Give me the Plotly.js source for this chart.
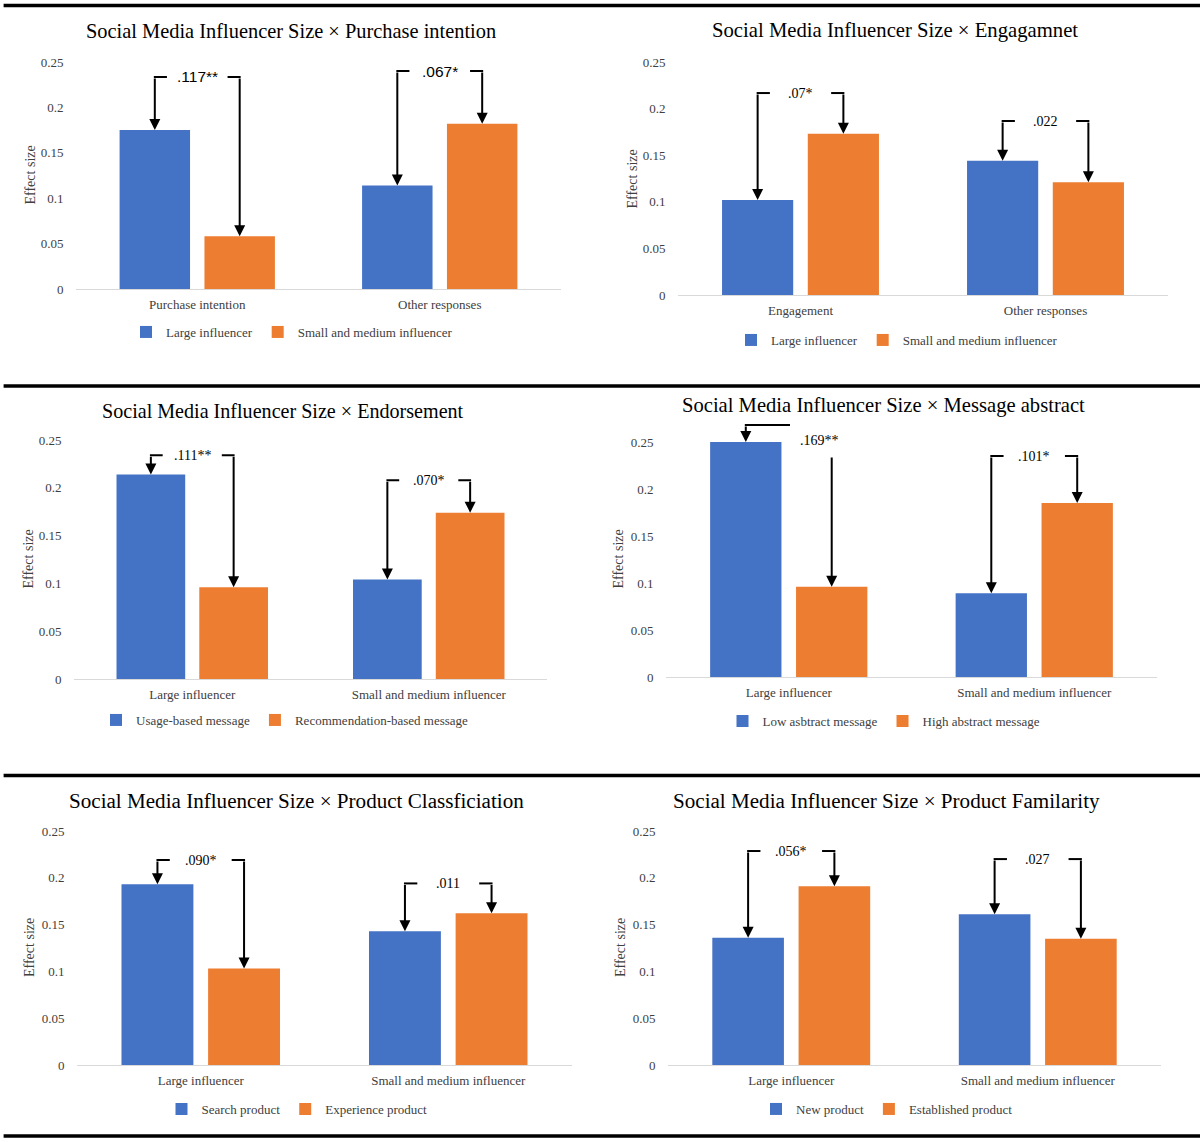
<!DOCTYPE html>
<html>
<head>
<meta charset="utf-8">
<script src="https://cdn.plot.ly/plotly-3.0.1.min.js"></script>
<style>html,body{margin:0;padding:0;background:#fff;}#chart{width:1200px;height:1142px;}</style>
</head>
<body>
<div id="chart"></div>
<script>
// ---------------- DATA ----------------
const titles = [
  'Social Media Influencer Size × Purchase intention',
  'Social Media Influencer Size × Engagamnet',
  'Social Media Influencer Size × Endorsement',
  'Social Media Influencer Size × Message abstract',
  'Social Media Influencer Size × Product Classficiation',
  'Social Media Influencer Size × Product Familarity'
];
const yTitle = 'Effect size';
const yTickVals = [0, 0.05, 0.1, 0.15, 0.2, 0.25];
const yTickText = ['0', '0.05', '0.1', '0.15', '0.2', '0.25'];

const p1Categories = ['Purchase intention', 'Other responses'];
const p1Series = ['Large influencer', 'Small and medium influencer'];
const p1Blue = [0.175, 0.114];
const p1Orange = [0.058, 0.182];
const p1Diff = ['.117**', '.067*'];

const p2Categories = ['Engagement', 'Other responses'];
const p2Series = ['Large influencer', 'Small and medium influencer'];
const p2Blue = [0.102, 0.144];
const p2Orange = [0.173, 0.121];
const p2Diff = ['.07*', '.022'];

const p3Categories = ['Large influencer', 'Small and medium influencer'];
const p3Series = ['Usage-based message', 'Recommendation-based message'];
const p3Blue = [0.214, 0.104];
const p3Orange = [0.096, 0.174];
const p3Diff = ['.111**', '.070*'];

const p4Categories = ['Large influencer', 'Small and medium influencer'];
const p4Series = ['Low asbtract message', 'High abstract message'];
const p4Blue = [0.25, 0.089];
const p4Orange = [0.096, 0.185];
const p4Diff = ['.169**', '.101*'];

const p5Categories = ['Large influencer', 'Small and medium influencer'];
const p5Series = ['Search product', 'Experience product'];
const p5Blue = [0.193, 0.143];
const p5Orange = [0.103, 0.162];
const p5Diff = ['.090*', '.011'];

const p6Categories = ['Large influencer', 'Small and medium influencer'];
const p6Series = ['New product', 'Established product'];
const p6Blue = [0.136, 0.161];
const p6Orange = [0.191, 0.135];
const p6Diff = ['.056*', '.027'];

// ---------------- LAYOUT / STYLE ----------------
const W = 1200, H = 1142;
const YMAX = 0.28;
const BLUE = '#4472C4', ORANGE = '#ED7D31';
const SERIF = 'Liberation Serif, Times New Roman, serif';
const SANS = 'Liberation Sans, Arial, sans-serif';
const BARGAP = 0.3, BARGROUPGAP = 0.17;

const panels = [
  {cats: p1Categories, series: p1Series, blue: p1Blue, orange: p1Orange, diff: p1Diff},
  {cats: p2Categories, series: p2Series, blue: p2Blue, orange: p2Orange, diff: p2Diff},
  {cats: p3Categories, series: p3Series, blue: p3Blue, orange: p3Orange, diff: p3Diff},
  {cats: p4Categories, series: p4Series, blue: p4Blue, orange: p4Orange, diff: p4Diff},
  {cats: p5Categories, series: p5Series, blue: p5Blue, orange: p5Orange, diff: p5Diff},
  {cats: p6Categories, series: p6Series, blue: p6Blue, orange: p6Orange, diff: p6Diff}
];

// pixel boxes: axis left/right, y pixel of 0 and of 0.25
const boxes = [
  {x0: 76,  x1: 561,  y0: 289,  y25: 62},
  {x0: 678, x1: 1168, y0: 295,  y25: 62},
  {x0: 74,  x1: 547,  y0: 679,  y25: 440},
  {x0: 666, x1: 1157, y0: 677,  y25: 442},
  {x0: 77,  x1: 572,  y0: 1065, y25: 831},
  {x0: 668, x1: 1161, y0: 1065, y25: 831}
];
const titlePos = [[291, 31], [895, 31], [283, 411], [883, 405], [296, 801], [886, 801]];
const titleSize = [20.4, 20.7, 20.1, 20.6, 21.1, 21.1];
const legendPos = [[292, 332], [897, 340], [285, 720], [884, 721], [297, 1109], [887, 1109]];
const yTitleX = [30, 632, 28, 618, 29, 620];
const diffFont = [SANS, SERIF, SERIF, SERIF, SERIF, SERIF];
const diffSize = [15.5, 14, 14, 14, 14, 14];
// bracket geometry (effect-size units for heights, category units for horizontal ticks)
const brackets = [
  [{y: 0.2335}, {y: 0.240}],
  [{y: 0.2167}, {y: 0.1867}],
  [{y: 0.234}, {y: 0.208}],
  [{y: 0.268, yR: 0.235, hL: 0.18, hR: 0, tdx: 0.125, ty: 0.252}, {y: 0.235}],
  [{y: 0.219}, {y: 0.194}],
  [{y: 0.2286}, {y: 0.220}]
];
const rulesY = [5.5, 386, 775.5, 1136];

const off = (1 - BARGAP) / 4; // bar centre offset from category centre
const traces = [];
const layout = {
  width: W, height: H,
  margin: {l: 0, r: 0, t: 0, b: 0},
  paper_bgcolor: '#fff', plot_bgcolor: 'rgba(0,0,0,0)',
  barmode: 'group', bargap: BARGAP, bargroupgap: BARGROUPGAP,
  showlegend: true,
  annotations: [], shapes: []
};

panels.forEach((p, i) => {
  const n = i + 1;
  const sx = n === 1 ? '' : String(n);
  const xr = 'x' + sx, yr = 'y' + sx;
  const lg = 'legend' + sx;
  const b = boxes[i];
  const scale = (b.y0 - b.y25) / 0.25;
  const topPx = b.y0 - YMAX * scale;

  traces.push({type: 'bar', x: p.cats, y: p.blue, name: p.series[0], marker: {color: BLUE},
    xaxis: xr, yaxis: yr, legend: lg, hoverinfo: 'skip'});
  traces.push({type: 'bar', x: p.cats, y: p.orange, name: p.series[1], marker: {color: ORANGE},
    xaxis: xr, yaxis: yr, legend: lg, hoverinfo: 'skip'});

  layout['xaxis' + sx] = {
    domain: [b.x0 / W, b.x1 / W], anchor: yr, type: 'category',
    showline: true, linecolor: '#d9d9d9', linewidth: 1.3,
    showgrid: false, zeroline: false, fixedrange: true,
    ticks: 'outside', ticklen: 3, tickcolor: 'rgba(0,0,0,0)',
    tickfont: {family: SERIF, size: 13, color: '#404040'}
  };
  layout['yaxis' + sx] = {
    domain: [1 - b.y0 / H, 1 - topPx / H], anchor: xr,
    range: [0, YMAX], tickvals: yTickVals, ticktext: yTickText,
    showline: false, showgrid: false, zeroline: false, fixedrange: true,
    ticks: 'outside', ticklen: 9, tickcolor: 'rgba(0,0,0,0)',
    tickfont: {family: SERIF, size: 13, color: '#404040'}
  };
  layout[lg] = {
    orientation: 'h', x: legendPos[i][0] / W, y: 1 - legendPos[i][1] / H,
    xanchor: 'center', yanchor: 'middle', bgcolor: 'rgba(0,0,0,0)',
    font: {family: SERIF, size: 13, color: '#404040'}, itemclick: false, itemdoubleclick: false
  };

  // title
  layout.annotations.push({text: titles[i], xref: 'paper', yref: 'paper',
    x: titlePos[i][0] / W, y: 1 - titlePos[i][1] / H, xanchor: 'center', yanchor: 'middle',
    showarrow: false, font: {family: SERIF, size: titleSize[i], color: '#000'}});
  // y title
  layout.annotations.push({text: yTitle, xref: 'paper', yref: 'paper', textangle: -90,
    x: yTitleX[i] / W, y: 1 - ((b.y0 + b.y25) / 2) / H, xanchor: 'center', yanchor: 'middle',
    showarrow: false, font: {family: SERIF, size: 14, color: '#404040'}});

  // brackets
  p.cats.forEach((c, k) => {
    const br = brackets[i][k];
    const hL = br.hL !== undefined ? br.hL : 0.05;
    const hR = br.hR !== undefined ? br.hR : 0.05;
    const yL = br.y, yRr = br.yR !== undefined ? br.yR : br.y;
    const xL = k - off, xRt = k + off;
    const arrow = (x, yStart, yEnd) => ({x: x, y: yEnd, ax: x, ay: yStart, xref: xr, yref: yr,
      axref: xr, ayref: yr, text: '', showarrow: true, arrowhead: 2, arrowsize: 1.1,
      arrowwidth: 2, arrowcolor: '#000', standoff: 0});
    layout.annotations.push(arrow(xL, yL, p.blue[k]));
    layout.annotations.push(arrow(xRt, yRr, p.orange[k]));
    if (hL > 0) layout.shapes.push({type: 'line', xref: xr, yref: yr, x0: xL - 0.004, x1: xL + hL,
      y0: yL, y1: yL, line: {color: '#000', width: 2}});
    if (hR > 0) layout.shapes.push({type: 'line', xref: xr, yref: yr, x0: xRt - hR, x1: xRt + 0.004,
      y0: yRr, y1: yRr, line: {color: '#000', width: 2}});
    layout.annotations.push({text: p.diff[k], xref: xr, yref: yr,
      x: k + (br.tdx || 0), y: br.ty !== undefined ? br.ty : yL, xanchor: 'center', yanchor: 'middle',
      showarrow: false, font: {family: diffFont[i], size: diffSize[i], color: '#000'}});
  });
});

// horizontal rules separating rows
rulesY.forEach(y => {
  layout.shapes.push({type: 'line', xref: 'paper', yref: 'paper', x0: 0.003, x1: 1,
    y0: 1 - y / H, y1: 1 - y / H, line: {color: '#000', width: 3.5}, layer: 'above'});
});

Plotly.newPlot('chart', traces, layout, {displayModeBar: false, staticPlot: true});
</script>
</body>
</html>
